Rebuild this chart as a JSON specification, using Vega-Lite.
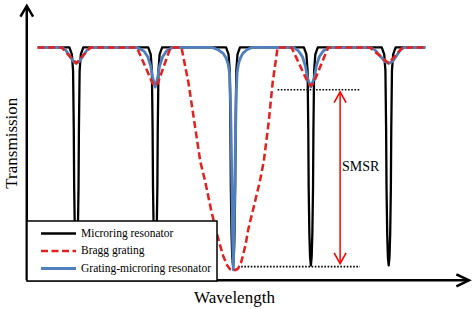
{
  "$schema": "https://vega.github.io/schema/vega-lite/v6.json",
  "width": 474,
  "height": 309,
  "padding": 0,
  "autosize": {"type": "fit", "contains": "padding"},
  "config": {"view": {"stroke": null}, "font": "Liberation Serif"},
  "datasets": {
    "curves": [
      {"s":"Microring resonator","w":38,"t":1},
      {"s":"Microring resonator","w":70,"t":1},{"s":"Microring resonator","w":72.5,"t":0.97},{"s":"Microring resonator","w":73.7,"t":0.9},{"s":"Microring resonator","w":74.4,"t":0.65},{"s":"Microring resonator","w":74.8,"t":0.4},{"s":"Microring resonator","w":75.5,"t":0.2},{"s":"Microring resonator","w":76.2,"t":0.1},{"s":"Microring resonator","w":77,"t":0.064},{"s":"Microring resonator","w":77.8,"t":0.1},{"s":"Microring resonator","w":78.5,"t":0.2},{"s":"Microring resonator","w":79.2,"t":0.4},{"s":"Microring resonator","w":79.6,"t":0.65},{"s":"Microring resonator","w":80.3,"t":0.9},{"s":"Microring resonator","w":81.5,"t":0.97},{"s":"Microring resonator","w":84,"t":1},
      {"s":"Microring resonator","w":149.5,"t":1},{"s":"Microring resonator","w":152,"t":0.97},{"s":"Microring resonator","w":153.2,"t":0.9},{"s":"Microring resonator","w":153.9,"t":0.65},{"s":"Microring resonator","w":154.3,"t":0.4},{"s":"Microring resonator","w":155,"t":0.2},{"s":"Microring resonator","w":155.7,"t":0.1},{"s":"Microring resonator","w":156.5,"t":0.064},{"s":"Microring resonator","w":157.3,"t":0.1},{"s":"Microring resonator","w":158,"t":0.2},{"s":"Microring resonator","w":158.7,"t":0.4},{"s":"Microring resonator","w":159.1,"t":0.65},{"s":"Microring resonator","w":159.8,"t":0.9},{"s":"Microring resonator","w":161,"t":0.97},{"s":"Microring resonator","w":163.5,"t":1},
      {"s":"Microring resonator","w":228,"t":1},{"s":"Microring resonator","w":230.5,"t":0.97},{"s":"Microring resonator","w":231.7,"t":0.9},{"s":"Microring resonator","w":232.4,"t":0.65},{"s":"Microring resonator","w":232.8,"t":0.4},{"s":"Microring resonator","w":233.5,"t":0.2},{"s":"Microring resonator","w":234.2,"t":0.1},{"s":"Microring resonator","w":235,"t":0.064},{"s":"Microring resonator","w":235.8,"t":0.1},{"s":"Microring resonator","w":236.5,"t":0.2},{"s":"Microring resonator","w":237.2,"t":0.4},{"s":"Microring resonator","w":237.6,"t":0.65},{"s":"Microring resonator","w":238.3,"t":0.9},{"s":"Microring resonator","w":239.5,"t":0.97},{"s":"Microring resonator","w":242,"t":1},
      {"s":"Microring resonator","w":306.5,"t":1},{"s":"Microring resonator","w":309,"t":0.97},{"s":"Microring resonator","w":310.2,"t":0.9},{"s":"Microring resonator","w":310.9,"t":0.65},{"s":"Microring resonator","w":311.3,"t":0.4},{"s":"Microring resonator","w":312,"t":0.2},{"s":"Microring resonator","w":312.7,"t":0.1},{"s":"Microring resonator","w":313.5,"t":0.064},{"s":"Microring resonator","w":314.3,"t":0.1},{"s":"Microring resonator","w":315,"t":0.2},{"s":"Microring resonator","w":315.7,"t":0.4},{"s":"Microring resonator","w":316.1,"t":0.65},{"s":"Microring resonator","w":316.8,"t":0.9},{"s":"Microring resonator","w":318,"t":0.97},{"s":"Microring resonator","w":320.5,"t":1},
      {"s":"Microring resonator","w":385,"t":1},{"s":"Microring resonator","w":387.5,"t":0.97},{"s":"Microring resonator","w":388.7,"t":0.9},{"s":"Microring resonator","w":389.4,"t":0.65},{"s":"Microring resonator","w":389.8,"t":0.4},{"s":"Microring resonator","w":390.5,"t":0.2},{"s":"Microring resonator","w":391.2,"t":0.1},{"s":"Microring resonator","w":392,"t":0.064},{"s":"Microring resonator","w":392.8,"t":0.1},{"s":"Microring resonator","w":393.5,"t":0.2},{"s":"Microring resonator","w":394.2,"t":0.4},{"s":"Microring resonator","w":394.6,"t":0.65},{"s":"Microring resonator","w":395.3,"t":0.9},{"s":"Microring resonator","w":396.5,"t":0.97},{"s":"Microring resonator","w":399,"t":1},
      {"s":"Microring resonator","w":429,"t":1},

      {"s":"Grating-microring resonator","w":38,"t":1},{"s":"Grating-microring resonator","w":62,"t":1},{"s":"Grating-microring resonator","w":66,"t":0.99},{"s":"Grating-microring resonator","w":70,"t":0.965},{"s":"Grating-microring resonator","w":74,"t":0.94},{"s":"Grating-microring resonator","w":77,"t":0.932},{"s":"Grating-microring resonator","w":80,"t":0.94},{"s":"Grating-microring resonator","w":84,"t":0.965},{"s":"Grating-microring resonator","w":88,"t":0.99},{"s":"Grating-microring resonator","w":92,"t":1},
      {"s":"Grating-microring resonator","w":138,"t":1},{"s":"Grating-microring resonator","w":145,"t":0.985},{"s":"Grating-microring resonator","w":149,"t":0.96},{"s":"Grating-microring resonator","w":152,"t":0.92},{"s":"Grating-microring resonator","w":154,"t":0.87},{"s":"Grating-microring resonator","w":156.5,"t":0.83},{"s":"Grating-microring resonator","w":159,"t":0.87},{"s":"Grating-microring resonator","w":161,"t":0.92},{"s":"Grating-microring resonator","w":164,"t":0.96},{"s":"Grating-microring resonator","w":168,"t":0.985},{"s":"Grating-microring resonator","w":174,"t":1},
      {"s":"Grating-microring resonator","w":214,"t":1},{"s":"Grating-microring resonator","w":220,"t":0.99},{"s":"Grating-microring resonator","w":225,"t":0.975},{"s":"Grating-microring resonator","w":228,"t":0.955},{"s":"Grating-microring resonator","w":230,"t":0.93},{"s":"Grating-microring resonator","w":231.5,"t":0.89},{"s":"Grating-microring resonator","w":232.3,"t":0.8},{"s":"Grating-microring resonator","w":233.2,"t":0.6},{"s":"Grating-microring resonator","w":233.8,"t":0.42},{"s":"Grating-microring resonator","w":234.5,"t":0.2},{"s":"Grating-microring resonator","w":235.3,"t":0.045},{"s":"Grating-microring resonator","w":236.1,"t":0.2},{"s":"Grating-microring resonator","w":236.8,"t":0.42},{"s":"Grating-microring resonator","w":237.4,"t":0.6},{"s":"Grating-microring resonator","w":238.3,"t":0.8},{"s":"Grating-microring resonator","w":239.1,"t":0.89},{"s":"Grating-microring resonator","w":240.5,"t":0.93},{"s":"Grating-microring resonator","w":242.5,"t":0.955},{"s":"Grating-microring resonator","w":245,"t":0.975},{"s":"Grating-microring resonator","w":249,"t":0.99},{"s":"Grating-microring resonator","w":254,"t":1},
      {"s":"Grating-microring resonator","w":296,"t":1},{"s":"Grating-microring resonator","w":301,"t":0.985},{"s":"Grating-microring resonator","w":305,"t":0.96},{"s":"Grating-microring resonator","w":308,"t":0.92},{"s":"Grating-microring resonator","w":310,"t":0.87},{"s":"Grating-microring resonator","w":313.5,"t":0.83},{"s":"Grating-microring resonator","w":317,"t":0.87},{"s":"Grating-microring resonator","w":319,"t":0.92},{"s":"Grating-microring resonator","w":322,"t":0.96},{"s":"Grating-microring resonator","w":326,"t":0.985},{"s":"Grating-microring resonator","w":332,"t":1},
      {"s":"Grating-microring resonator","w":373,"t":1},{"s":"Grating-microring resonator","w":378,"t":0.99},{"s":"Grating-microring resonator","w":383,"t":0.965},{"s":"Grating-microring resonator","w":388,"t":0.94},{"s":"Grating-microring resonator","w":392,"t":0.932},{"s":"Grating-microring resonator","w":396,"t":0.94},{"s":"Grating-microring resonator","w":400,"t":0.965},{"s":"Grating-microring resonator","w":404,"t":0.99},{"s":"Grating-microring resonator","w":408,"t":1},{"s":"Grating-microring resonator","w":429,"t":1},

      {"s":"Bragg grating","w":38,"t":1},{"s":"Bragg grating","w":62,"t":1},{"s":"Bragg grating","w":77,"t":0.932},{"s":"Bragg grating","w":91,"t":1},{"s":"Bragg grating","w":138,"t":1},{"s":"Bragg grating","w":154,"t":0.845},{"s":"Bragg grating","w":156.5,"t":0.835},{"s":"Bragg grating","w":159,"t":0.845},{"s":"Bragg grating","w":172,"t":1},{"s":"Bragg grating","w":183,"t":1},{"s":"Bragg grating","w":190,"t":0.85},{"s":"Bragg grating","w":196,"t":0.68},{"s":"Bragg grating","w":202,"t":0.51},{"s":"Bragg grating","w":207,"t":0.424},{"s":"Bragg grating","w":213,"t":0.3},{"s":"Bragg grating","w":218,"t":0.212},{"s":"Bragg grating","w":222,"t":0.15},{"s":"Bragg grating","w":225,"t":0.106},{"s":"Bragg grating","w":229,"t":0.065},{"s":"Bragg grating","w":232,"t":0.048},{"s":"Bragg grating","w":236,"t":0.042},{"s":"Bragg grating","w":240,"t":0.05},{"s":"Bragg grating","w":243,"t":0.075},{"s":"Bragg grating","w":245,"t":0.106},{"s":"Bragg grating","w":248,"t":0.16},{"s":"Bragg grating","w":250,"t":0.212},{"s":"Bragg grating","w":255,"t":0.3},{"s":"Bragg grating","w":262,"t":0.424},{"s":"Bragg grating","w":266,"t":0.51},{"s":"Bragg grating","w":271,"t":0.68},{"s":"Bragg grating","w":275,"t":0.85},{"s":"Bragg grating","w":280,"t":1},{"s":"Bragg grating","w":294,"t":1},{"s":"Bragg grating","w":311,"t":0.845},{"s":"Bragg grating","w":313.5,"t":0.835},{"s":"Bragg grating","w":316,"t":0.845},{"s":"Bragg grating","w":331,"t":1},{"s":"Bragg grating","w":373,"t":1},{"s":"Bragg grating","w":392,"t":0.932},{"s":"Bragg grating","w":406,"t":1},{"s":"Bragg grating","w":429,"t":1}
    ],
    "axes": [
      {"w":27,"w2":471,"t":0,"t2":0},
      {"w":27,"w2":27,"t":0,"t2":1.172}
    ],
    "dotted": [
      {"w":280,"w2":363,"t":0.818},
      {"w":240,"w2":363,"t":0.059}
    ],
    "smsr": [
      {"w":343,"t":0.805,"t2":0.076}
    ]
  },
  "layer": [
    {
      "data": {"name": "axes"},
      "mark": {"type": "rule", "color": "black", "strokeWidth": 2.5},
      "encoding": {
        "x": {"field": "w", "type": "quantitative", "scale": {"domain": [0, 474], "nice": false, "zero": false}, "axis": null},
        "x2": {"field": "w2"},
        "y": {"field": "t", "type": "quantitative", "scale": {"domain": [-0.1229, 1.1864], "nice": false, "zero": false}, "axis": null},
        "y2": {"field": "t2"}
      }
    },
    {
      "data": {"values": [{"w": 27, "t": 1.178}]},
      "mark": {"type": "point", "shape": "M-1,1.7L0,0L1,1.7", "filled": false, "size": 160, "color": "black", "strokeWidth": 2.5, "opacity": 1},
      "encoding": {"x": {"field": "w", "type": "quantitative"}, "y": {"field": "t", "type": "quantitative"}}
    },
    {
      "data": {"values": [{"w": 473, "t": 0}]},
      "mark": {"type": "point", "shape": "M-2,-0.95L0,0L-2,0.95", "filled": false, "size": 160, "color": "black", "strokeWidth": 2.5, "opacity": 1},
      "encoding": {"x": {"field": "w", "type": "quantitative"}, "y": {"field": "t", "type": "quantitative"}}
    },
    {
      "data": {"name": "dotted"},
      "mark": {"type": "rule", "color": "black", "strokeWidth": 1.6, "strokeDash": [1.6, 1.6]},
      "encoding": {"x": {"field": "w", "type": "quantitative"}, "x2": {"field": "w2"}, "y": {"field": "t", "type": "quantitative"}}
    },
    {
      "data": {"name": "smsr"},
      "mark": {"type": "rule", "color": "#ff0000", "strokeWidth": 1.5},
      "encoding": {"x": {"field": "w", "type": "quantitative"}, "y": {"field": "t", "type": "quantitative"}, "y2": {"field": "t2"}}
    },
    {
      "data": {"values": [{"w": 343, "t": 0.809}]},
      "mark": {"type": "point", "shape": "M-1,1.8L0,0L1,1.8", "filled": false, "size": 144, "color": "#ff0000", "strokeWidth": 1.6, "opacity": 1},
      "encoding": {"x": {"field": "w", "type": "quantitative"}, "y": {"field": "t", "type": "quantitative"}}
    },
    {
      "data": {"values": [{"w": 343, "t": 0.072}]},
      "mark": {"type": "point", "shape": "M-1,-1.8L0,0L1,-1.8", "filled": false, "size": 144, "color": "#ff0000", "strokeWidth": 1.6, "opacity": 1},
      "encoding": {"x": {"field": "w", "type": "quantitative"}, "y": {"field": "t", "type": "quantitative"}}
    },
    {
      "data": {"name": "curves"},
      "mark": {"type": "line", "strokeCap": "butt", "strokeJoin": "round"},
      "encoding": {
        "x": {"field": "w", "type": "quantitative"},
        "y": {"field": "t", "type": "quantitative"},
        "color": {
          "field": "s", "type": "nominal",
          "scale": {"domain": ["Microring resonator", "Bragg grating", "Grating-microring resonator"], "range": ["#000000", "#e3221f", "#4f7fbd"]},
          "legend": {
            "title": null, "orient": "none", "legendX": 27, "legendY": 217,
            "symbolType": "M-3.2,0L3.8,0", "symbolSize": 100,
            "symbolOffset": 17.5,
            "labelFont": "Liberation Serif", "labelFontSize": 11.5, "labelColor": "#000000",
            "labelOffset": 17.5, "labelLimit": 0, "rowPadding": 5.5,
            "padding": 6, "strokeColor": "#000000", "fillColor": "#ffffff",
            "encode": {"legend": {"update": {"strokeWidth": {"value": 1.5}}}}
          }
        },
        "strokeDash": {
          "field": "s", "type": "nominal",
          "scale": {"domain": ["Microring resonator", "Bragg grating", "Grating-microring resonator"], "range": [[1, 0], [7, 3.5], [1, 0]]},
          "legend": {"title": null, "orient": "none", "legendX": 27, "legendY": 217}
        },
        "strokeWidth": {
          "field": "s", "type": "nominal",
          "scale": {"domain": ["Microring resonator", "Bragg grating", "Grating-microring resonator"], "range": [2.3, 2.8, 3]},
          "legend": {"title": null, "orient": "none", "legendX": 27, "legendY": 217}
        }
      }
    },
    {
      "data": {"values": [{"w": 345, "t": 0.487, "label": "SMSR"}]},
      "mark": {"type": "text", "align": "left", "baseline": "middle", "font": "Liberation Serif", "fontSize": 14, "color": "black"},
      "encoding": {"x": {"field": "w", "type": "quantitative"}, "y": {"field": "t", "type": "quantitative"}, "text": {"field": "label"}}
    },
    {
      "data": {"values": [{"w": 12, "t": 0.589, "label": "Transmission"}]},
      "mark": {"type": "text", "align": "center", "baseline": "middle", "angle": 270, "font": "Liberation Serif", "fontSize": 17, "color": "black"},
      "encoding": {"x": {"field": "w", "type": "quantitative"}, "y": {"field": "t", "type": "quantitative"}, "text": {"field": "label"}}
    },
    {
      "data": {"values": [{"w": 236.5, "t": -0.076, "label": "Wavelength"}]},
      "mark": {"type": "text", "align": "center", "baseline": "middle", "font": "Liberation Serif", "fontSize": 17, "color": "black"},
      "encoding": {"x": {"field": "w", "type": "quantitative"}, "y": {"field": "t", "type": "quantitative"}, "text": {"field": "label"}}
    }
  ]
}
